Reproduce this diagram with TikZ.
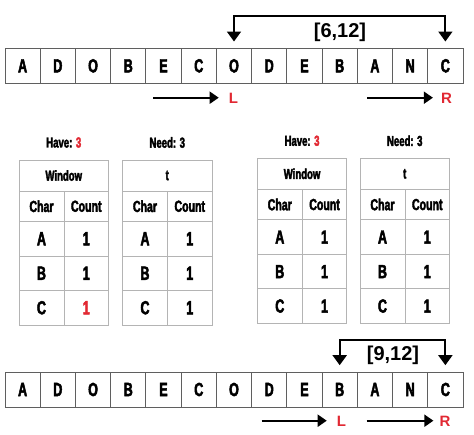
\documentclass[tikz,border=0pt]{standalone}
\usepackage{fontspec}
\setmainfont{Liberation Sans}
\newfontfamily\cond{Liberation Sans Bold}[FakeStretch=0.66, FakeBold=2.5]
\usetikzlibrary{arrows.meta}
\definecolor{myred}{RGB}{225,40,50}
\definecolor{arrline}{RGB}{95,95,95}
\definecolor{tabline}{RGB}{180,180,180}

\newcommand\drawtab[5]{%
  \node[tabcell,minimum width=89.5pt,minimum height=31pt,font=\cond\fontsize{14.5}{14.5}\selectfont] (#1T) at ({#2+44.75},{#3+15.5}) {#4};
  \node[tabcell,minimum width=45pt,minimum height=30.5pt,font=\cond\fontsize{16}{16}\selectfont] (#1h1) at ({#2+22.5},{#3+46.25}) {Char};
  \node[tabcell,minimum width=44.5pt,minimum height=30.5pt,font=\cond\fontsize{16}{16}\selectfont] (#1h2) at ({#2+67.25},{#3+46.25}) {Count};
  \node[tabcell,valcell,minimum width=45pt] (#1a1) at ({#2+22.5},{#3+78.75}) {A};
  \node[tabcell,valcell,minimum width=44.5pt] (#1a2) at ({#2+67.25},{#3+78.75}) {1};
  \node[tabcell,valcell,minimum width=45pt] (#1b1) at ({#2+22.5},{#3+113.25}) {B};
  \node[tabcell,valcell,minimum width=44.5pt] (#1b2) at ({#2+67.25},{#3+113.25}) {1};
  \node[tabcell,valcell,minimum width=45pt] (#1c1) at ({#2+22.5},{#3+147.75}) {C};
  \node[tabcell,valcell,minimum width=44.5pt] (#1c2) at ({#2+67.25},{#3+147.75}) {#5};
}

\begin{document}
\begin{tikzpicture}[x=1pt,y=-1pt,
  arrcell/.style={draw=arrline,line width=0.9pt,minimum width=35.23pt,minimum height=35pt,inner sep=0pt,outer sep=0pt,font=\cond\fontsize{19}{19}\selectfont},
  tabcell/.style={draw=tabline,line width=0.9pt,inner sep=0pt,outer sep=0pt},
  valcell/.style={minimum height=34.5pt,font=\cond\fontsize{19}{19}\selectfont},
  lbl/.style={inner sep=0pt,font=\cond\fontsize{14.5}{14.5}\selectfont},
  brk/.style={line width=1.8pt,{Triangle[length=10pt,width=14pt]}-{Triangle[length=10pt,width=14pt]}},
  rng/.style={inner sep=0pt,font=\bfseries\fontsize{20}{20}\selectfont},
  ptr/.style={inner sep=0pt,text=myred,font=\bfseries\fontsize{15}{15}\selectfont},
  ptrarrow/.style={line width=1.8pt,-{Triangle[length=9pt,width=12pt]}}
]
\useasboundingbox (0,0) rectangle (474,434);

% top array
\foreach \c [count=\i] in {A,D,O,B,E,C,O,D,E,B,A,N,C}{
  \node[arrcell] (t\i) at ({5+35.23*(\i-0.5)},65.8) {\c};
}
% bottom array
\foreach \c [count=\i] in {A,D,O,B,E,C,O,D,E,B,A,N,C}{
  \node[arrcell] (b\i) at ({5+35.23*(\i-0.5)},389.5) {\c};
}

% top bracket
\draw[brk] ([yshift=6.8pt]t7.north) -- ([yshift=32.6pt]t7.north) -- ([yshift=32.6pt]t13.north) -- ([yshift=6.8pt]t13.north);
\node[rng] (r1) at (340,32) {[6,12]};
% bottom bracket
\draw[brk] ([yshift=6.8pt]b10.north) -- ([yshift=32.4pt]b10.north) -- ([yshift=32.4pt]b13.north) -- ([yshift=6.8pt]b13.north);
\node[rng] (r2) at (393,355) {[9,12]};

% pointers top
\node[ptr] (L1) at (233.5,98) {L};
\node[ptr] (R1) at (446.5,98) {R};
\coordinate (L1s) at (153,97.7);
\coordinate (R1s) at (367,97.7);
\draw[ptrarrow,shorten >=10pt] (L1s) -- (L1.west |- L1s);
\draw[ptrarrow,shorten >=8pt] (R1s) -- (R1.west |- R1s);

% pointers bottom
\node[ptr] (L2) at (341.5,421) {L};
\node[ptr] (R2) at (445,421) {R};
\coordinate (L2s) at (261.7,420.7);
\coordinate (R2s) at (366.7,420.7);
\draw[ptrarrow,shorten >=10pt] (L2s) -- (L2.west |- L2s);
\draw[ptrarrow,shorten >=6pt] (R2s) -- (R2.west |- R2s);

% tables
\drawtab{w1}{19}{160}{Window}{\textcolor{myred}{1}}
\drawtab{n1}{122.5}{160}{t}{1}
\drawtab{w2}{257.3}{158.3}{Window}{1}
\drawtab{n2}{360}{158.3}{t}{1}

\node[lbl] (have1) at ([yshift=17.5pt]w1T.north) {Have: \textcolor{myred}{3}};
\node[lbl] (need1) at ([yshift=17.5pt]n1T.north) {Need: 3};
\node[lbl] (have2) at ([yshift=17.5pt]w2T.north) {Have: \textcolor{myred}{3}};
\node[lbl] (need2) at ([yshift=17.5pt]n2T.north) {Need: 3};
\end{tikzpicture}
\end{document}
